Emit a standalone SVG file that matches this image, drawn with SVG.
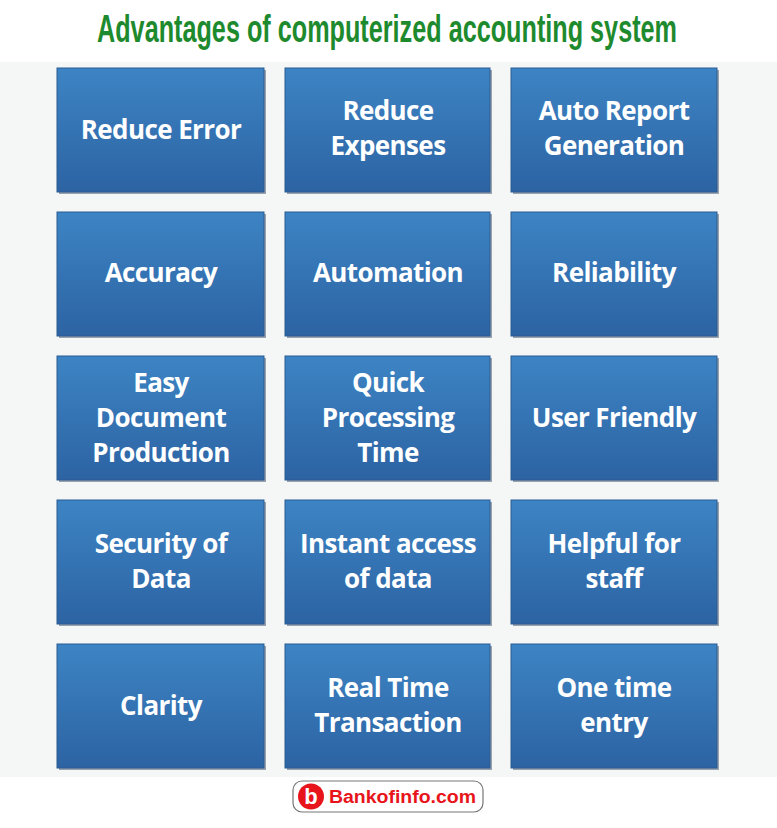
<svg xmlns="http://www.w3.org/2000/svg" width="777" height="828" viewBox="0 0 777 828">
<defs>
<linearGradient id="g" x1="0" y1="0" x2="0" y2="1">
<stop offset="0" stop-color="#3d84c4"/><stop offset="1" stop-color="#2c63a3"/>
</linearGradient>
<style>
.b{fill:url(#g);stroke:#2a5a90;stroke-width:1}
.s{fill:#9aa3ad}
.t{font-family:"Open Sans","Noto Sans",sans-serif;font-weight:bold;font-size:26px;fill:#fff;text-anchor:middle;letter-spacing:-0.6px}
</style>
</defs>
<rect width="777" height="828" fill="#fff"/>
<rect x="0" y="62" width="777" height="715" fill="#f5f6f6"/>
<text x="387" y="42" font-family="Liberation Sans,sans-serif" font-weight="bold" font-size="38" fill="#1e8a2e" text-anchor="middle" textLength="580" lengthAdjust="spacingAndGlyphs">Advantages of computerized accounting system</text>
<g id="connectors"/>
<g id="n1"><rect class="s" x="59" y="70" width="207" height="124"/><rect class="b" x="57" y="68" width="207" height="124"/><text class="t" x="161" y="139">Reduce Error</text></g>
<g id="n2"><rect class="s" x="287" y="70" width="205" height="124"/><rect class="b" x="285" y="68" width="205" height="124"/><text class="t" x="388" y="120">Reduce</text><text class="t" x="388" y="155">Expenses</text></g>
<g id="n3"><rect class="s" x="513" y="70" width="206" height="124"/><rect class="b" x="511" y="68" width="206" height="124"/><text class="t" x="614" y="120">Auto Report</text><text class="t" x="614" y="155">Generation</text></g>
<g id="n4"><rect class="s" x="59" y="214" width="207" height="124"/><rect class="b" x="57" y="212" width="207" height="124"/><text class="t" x="161" y="282">Accuracy</text></g>
<g id="n5"><rect class="s" x="287" y="214" width="205" height="124"/><rect class="b" x="285" y="212" width="205" height="124"/><text class="t" x="388" y="282">Automation</text></g>
<g id="n6"><rect class="s" x="513" y="214" width="206" height="124"/><rect class="b" x="511" y="212" width="206" height="124"/><text class="t" x="614" y="282">Reliability</text></g>
<g id="n7"><rect class="s" x="59" y="358" width="207" height="124"/><rect class="b" x="57" y="356" width="207" height="124"/><text class="t" x="161" y="392">Easy</text><text class="t" x="161" y="427">Document</text><text class="t" x="161" y="462">Production</text></g>
<g id="n8"><rect class="s" x="287" y="358" width="205" height="124"/><rect class="b" x="285" y="356" width="205" height="124"/><text class="t" x="388" y="392">Quick</text><text class="t" x="388" y="427">Processing</text><text class="t" x="388" y="462">Time</text></g>
<g id="n9"><rect class="s" x="513" y="358" width="206" height="124"/><rect class="b" x="511" y="356" width="206" height="124"/><text class="t" x="614" y="427">User Friendly</text></g>
<g id="n10"><rect class="s" x="59" y="502" width="207" height="124"/><rect class="b" x="57" y="500" width="207" height="124"/><text class="t" x="161" y="553">Security of</text><text class="t" x="161" y="588">Data</text></g>
<g id="n11"><rect class="s" x="287" y="502" width="205" height="124"/><rect class="b" x="285" y="500" width="205" height="124"/><text class="t" x="388" y="553">Instant access</text><text class="t" x="388" y="588">of data</text></g>
<g id="n12"><rect class="s" x="513" y="502" width="206" height="124"/><rect class="b" x="511" y="500" width="206" height="124"/><text class="t" x="614" y="553">Helpful for</text><text class="t" x="614" y="588">staff</text></g>
<g id="n13"><rect class="s" x="59" y="646" width="207" height="124"/><rect class="b" x="57" y="644" width="207" height="124"/><text class="t" x="161" y="715">Clarity</text></g>
<g id="n14"><rect class="s" x="287" y="646" width="205" height="124"/><rect class="b" x="285" y="644" width="205" height="124"/><text class="t" x="388" y="697">Real Time</text><text class="t" x="388" y="732">Transaction</text></g>
<g id="n15"><rect class="s" x="513" y="646" width="206" height="124"/><rect class="b" x="511" y="644" width="206" height="124"/><text class="t" x="614" y="697">One time</text><text class="t" x="614" y="732">entry</text></g>
<g id="logo">
<rect x="293" y="781" width="190" height="31" rx="9" fill="#fff" stroke="#777" stroke-width="1.2"/>
<circle cx="311" cy="796.5" r="13" fill="#e8141b"/>
<text x="311" y="804" font-family="Liberation Sans,sans-serif" font-weight="bold" font-size="22" fill="#fff" text-anchor="middle">b</text>
<text x="329" y="803" font-family="Liberation Sans,sans-serif" font-weight="bold" font-size="18" fill="#e8141b" textLength="147" lengthAdjust="spacingAndGlyphs">Bankofinfo.com</text>
</g>
</svg>
